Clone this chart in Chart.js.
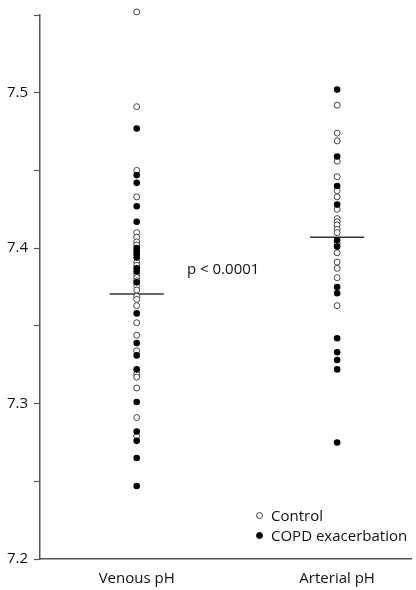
<!DOCTYPE html>
<html>
<head>
<meta charset="utf-8">
<script src="https://cdn.jsdelivr.net/npm/chart.js@4.4.0/dist/chart.umd.min.js"></script>
<style>
  body { margin: 0; background: #fff; }
  #wrap { position: relative; width: 416px; height: 590px; }
  .note { position: absolute; font-family: 'Open Sans', sans-serif; font-size: 15px; color: #111; white-space: nowrap; line-height: 20px; }
  .dot { position: absolute; width: 5px; height: 5px; border-radius: 50%; }
</style>
</head>
<body>
<div id="wrap">
  <canvas id="phChart" width="416" height="590"></canvas>
  <div class="note" style="left:187px; top:258px;">p &lt; 0.0001</div>
  <div class="dot" style="left:256px; top:512px; border:1px solid #444; background:#fff;"></div>
  <div class="note" style="left:271px; top:505px;">Control</div>
  <div class="dot" style="left:256px; top:532px; border:1px solid #000; background:#000;"></div>
  <div class="note" style="left:271px; top:525px;">COPD exacerbation</div>
</div>
<script>
// categories and their x position
const groups = ['Venous pH', 'Arterial pH'];
const groupX = [1, 3];

// venous pH values
const venousControl = [7.552, 7.491, 7.450, 7.433, 7.410, 7.407, 7.404, 7.402, 7.391, 7.389,
    7.383, 7.381, 7.379, 7.376, 7.373, 7.369, 7.367, 7.363, 7.352, 7.344,
    7.334, 7.319, 7.317, 7.310, 7.291, 7.279];
const venousCopd = [7.477, 7.447, 7.442, 7.427, 7.417, 7.400, 7.398, 7.396, 7.394, 7.387,
    7.385, 7.378, 7.358, 7.339, 7.331, 7.322, 7.301, 7.282, 7.276, 7.265, 7.247];

// arterial pH values
const arterialControl = [7.492, 7.474, 7.469, 7.456, 7.446, 7.437, 7.433, 7.425, 7.419, 7.417,
    7.415, 7.412, 7.410, 7.403, 7.397, 7.391, 7.387, 7.381, 7.363];
const arterialCopd = [7.502, 7.459, 7.440, 7.428, 7.405, 7.401, 7.375, 7.371, 7.342, 7.333,
    7.328, 7.322, 7.275];

// group means
const means = [7.3705, 7.407];
const meanHalfWidth = 0.27;

// y axis
const yMin = 7.2;
const yMax = 7.55;
const yStep = 0.05;

function toPoints(values, x) {
    return values.map(v => ({ x: x, y: v }));
}

const openPoints = toPoints(venousControl, groupX[0]).concat(toPoints(arterialControl, groupX[1]));
const filledPoints = toPoints(venousCopd, groupX[0]).concat(toPoints(arterialCopd, groupX[1]));

const meanSets = means.map((m, i) => ({
    type: 'line',
    data: [{ x: groupX[i] - meanHalfWidth, y: m }, { x: groupX[i] + meanHalfWidth, y: m }],
    borderColor: '#333',
    borderWidth: 1.6,
    pointRadius: 0,
    order: 3
}));

Chart.defaults.font.family = "'Open Sans', sans-serif";
Chart.defaults.font.size = 15;
Chart.defaults.color = '#111';

new Chart(document.getElementById('phChart'), {
    type: 'scatter',
    data: {
        datasets: [
            ...meanSets,
            {
                label: 'Control',
                data: openPoints,
                clip: false,
                pointRadius: 3,
                pointBackgroundColor: '#fff',
                pointBorderColor: '#444',
                pointBorderWidth: 1,
                order: 2
            },
            {
                label: 'COPD exacerbation',
                data: filledPoints,
                clip: false,
                pointRadius: 3.3,
                pointBackgroundColor: '#000',
                pointBorderColor: '#000',
                pointBorderWidth: 0,
                order: 1
            }
        ]
    },
    options: {
        responsive: false,
        animation: false,
        layout: { padding: { top: 14, right: 0, bottom: 0, left: 0 } },
        plugins: {
            legend: { display: false },
            tooltip: { enabled: false }
        },
        scales: {
            x: {
                type: 'linear',
                min: 0.035,
                max: 3.737,
                afterBuildTicks: scale => {
                    scale.ticks = groupX.map(v => ({ value: v }));
                },
                afterFit: scale => { scale.height = 31; },
                ticks: {
                    padding: 3,
                    callback: value => groups[groupX.indexOf(value)] || ''
                },
                grid: { display: false },
                border: { display: true, color: '#555', width: 1.5 }
            },
            y: {
                min: yMin,
                max: yMax,
                afterFit: scale => { scale.width = 40; },
                ticks: {
                    stepSize: yStep,
                    padding: 6,
                    callback: value => {
                        const r = Math.round(value * 100);
                        return r % 10 === 0 ? (r / 100).toFixed(1) : '';
                    }
                },
                grid: {
                    drawOnChartArea: false,
                    drawTicks: true,
                    tickLength: 6,
                    tickColor: '#555',
                    tickWidth: 1.2
                },
                border: { display: true, color: '#555', width: 1.5 }
            }
        }
    }
});
</script>
</body>
</html>
